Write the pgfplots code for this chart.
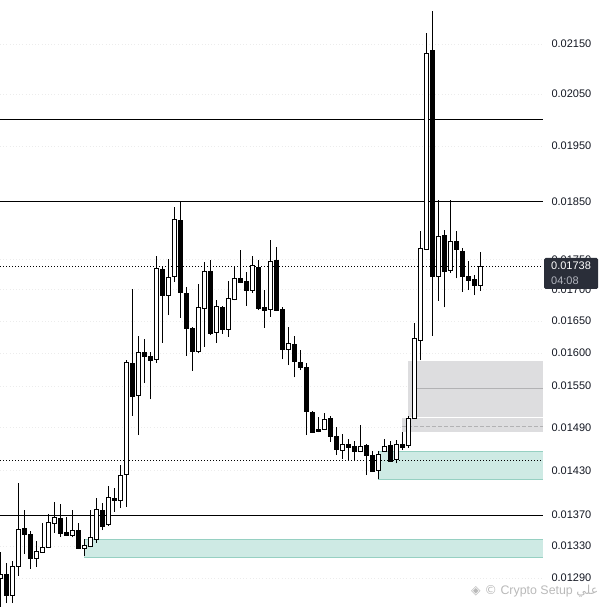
\documentclass[border=0pt]{standalone}
\usepackage{fontspec}
\setmainfont{Liberation Sans}
\newfontfamily\dejavu{DejaVu Sans}
\newfontfamily\arabicfont[Script=Arabic]{DejaVu Sans}
\TeXXeTstate=1
\usepackage{pgfplots}
\usepackage{pgfplotstable}
\pgfplotsset{compat=1.18}
\definecolor{zonegray}{RGB}{221,221,223}
\definecolor{zoneline}{RGB}{178,178,180}
\definecolor{teal1}{RGB}{206,234,228}
\definecolor{teal2}{RGB}{150,208,194}
\definecolor{boxdark}{RGB}{42,46,57}
\definecolor{boxtext}{RGB}{178,181,190}
\definecolor{ticktext}{RGB}{19,23,34}

\pgfplotstableread{
x o h l c b
0 0.012899 0.013223 0.012485 0.012948 1
1 0.012948 0.013085 0.012594 0.012691 0
2 0.012691 0.013110 0.012594 0.013047 1
3 0.013039 0.014126 0.012927 0.013514 1
4 0.013530 0.013766 0.013198 0.013444 0
5 0.013453 0.013492 0.013014 0.013139 0
6 0.013139 0.013363 0.013035 0.013236 1
7 0.013220 0.013599 0.013211 0.013283 1
8 0.013287 0.013713 0.013274 0.013608 1
9 0.013591 0.013872 0.013470 0.013670 1
10 0.013661 0.013845 0.013418 0.013457 0
11 0.013479 0.013678 0.013427 0.013431 0
12 0.013431 0.013766 0.013411 0.013501 1
13 0.013505 0.013599 0.013262 0.013265 0
14 0.013265 0.013389 0.013173 0.013308 1
15 0.013296 0.013766 0.013283 0.013415 1
16 0.013385 0.013921 0.013342 0.013775 1
17 0.013766 0.013858 0.013505 0.013547 0
18 0.013575 0.014085 0.013556 0.013934 1
19 0.013921 0.014058 0.013743 0.013889 0
20 0.013898 0.014371 0.013792 0.014230 1
21 0.014244 0.015890 0.013809 0.015855 1
22 0.015844 0.017008 0.015066 0.015342 0
23 0.015362 0.016259 0.014790 0.016007 1
24 0.016012 0.016208 0.015548 0.015946 0
25 0.015946 0.016016 0.015304 0.015879 0
26 0.015894 0.017553 0.015849 0.017348 1
27 0.017336 0.017369 0.016155 0.016899 0
28 0.016899 0.017497 0.016589 0.017199 1
29 0.017209 0.018390 0.017127 0.018185 1
30 0.018168 0.018490 0.016547 0.016947 0
31 0.016942 0.017035 0.015955 0.016373 0
32 0.016384 0.016400 0.015728 0.016016 0
33 0.016016 0.017089 0.015996 0.016712 1
34 0.016696 0.017457 0.016093 0.017303 1
35 0.017303 0.017486 0.016275 0.016295 0
36 0.016310 0.016829 0.016155 0.016728 1
37 0.016712 0.016733 0.016295 0.016358 0
38 0.016358 0.017138 0.016248 0.016857 1
39 0.016841 0.017374 0.016825 0.017182 1
40 0.017187 0.017654 0.017105 0.017122 0
41 0.017138 0.017286 0.016738 0.016980 0
42 0.016986 0.017553 0.016947 0.017397 1
43 0.017369 0.017486 0.016669 0.016690 0
44 0.016706 0.016991 0.016389 0.016658 0
45 0.016680 0.017823 0.016562 0.017461 1
46 0.017486 0.017704 0.016653 0.016669 0
47 0.016685 0.016717 0.015900 0.016050 0
48 0.016050 0.016400 0.015814 0.016146 1
49 0.016135 0.016259 0.015629 0.015864 0
50 0.015855 0.016043 0.015739 0.015773 0
51 0.015784 0.015849 0.014790 0.015123 0
52 0.015114 0.015133 0.014818 0.014828 0
53 0.014875 0.015051 0.014828 0.014847 0
54 0.014871 0.015100 0.014861 0.015014 1
55 0.015028 0.015061 0.014695 0.014766 0
56 0.014776 0.014899 0.014509 0.014589 0
57 0.014579 0.014804 0.014450 0.014659 1
58 0.014659 0.014729 0.014440 0.014617 0
59 0.014625 0.014705 0.014426 0.014555 0
60 0.014565 0.014932 0.014551 0.014625 1
61 0.014645 0.014659 0.014234 0.014509 0
62 0.014509 0.014565 0.014275 0.014289 0
63 0.014303 0.014565 0.014180 0.014519 1
64 0.014565 0.014729 0.014558 0.014625 1
65 0.014639 0.014709 0.014419 0.014426 0
66 0.014454 0.014719 0.014394 0.014659 1
67 0.014659 0.014828 0.014579 0.014611 0
68 0.014639 0.015061 0.014611 0.015028 1
69 0.015028 0.016463 0.015018 0.016223 1
70 0.016189 0.017978 0.015890 0.017682 1
71 0.017671 0.021720 0.017654 0.021309 1
72 0.021377 0.022190 0.016264 0.017209 0
73 0.017209 0.018519 0.016818 0.017892 1
74 0.017909 0.017995 0.016712 0.017291 0
75 0.017308 0.018519 0.017275 0.017806 1
76 0.017806 0.017978 0.017182 0.017665 0
77 0.017637 0.017682 0.016963 0.017209 0
78 0.017220 0.017469 0.016991 0.017155 0
79 0.017166 0.017237 0.016910 0.017073 0
80 0.017061 0.017625 0.016980 0.017380 1
}\candles

\begin{document}
\begin{tikzpicture}
\begin{axis}[
  at={(0,0)}, anchor=south west,
  scale only axis, width=543pt, height=607pt,
  ymode=log,
  xmin=-0.05, xmax=90.45,
  ymin=0.012546, ymax=0.022424,
  enlargelimits=false,
  axis line style={draw=none},
  major tick length=0pt,
  xtick=\empty,
  ytick={0.02245,0.0215,0.0205,0.0195,0.0185,0.0175,0.0170,0.0165,0.0160,0.0155,0.0149,0.0143,0.0137,0.0133,0.0129,0.0125},
  yticklabels={0.02250,0.02150,0.02050,0.01950,0.01850,0.01750,0.01700,0.01650,0.01600,0.01550,0.01490,0.01430,0.01370,0.01330,0.01290,0.01250},
  yticklabel pos=right,
  yticklabel style={anchor=west, xshift=5pt, font=\fontsize{11}{13}\selectfont, text=ticktext},
  ymajorgrids,
  grid style={draw=gray!15, dash pattern=on 0.6pt off 2.6pt},
  clip=true,
]
% zones
\addplot[fill=zonegray, draw=none] coordinates {(67.95,0.015875) (90.45,0.015875) (90.45,0.015047) (67.95,0.015047)} -- cycle;
\addplot[fill=zonegray, draw=none] coordinates {(66.95,0.015031) (90.45,0.015031) (90.45,0.014827) (66.95,0.014827)} -- cycle;
\addplot[zoneline, line width=0.8pt] coordinates {(69.4,0.01547) (90.45,0.01547)};
\addplot[zoneline, line width=0.8pt, dash pattern=on 4pt off 2pt] coordinates {(66.95,0.01492) (90.45,0.01492)};
\addplot[fill=teal1, draw=none] coordinates {(62.95,0.014566) (90.45,0.014566) (90.45,0.014177) (62.95,0.014177)} -- cycle;
\addplot[teal2, line width=0.8pt] coordinates {(62.95,0.014566) (90.45,0.014566)};
\addplot[teal2, line width=0.8pt] coordinates {(62.95,0.014177) (90.45,0.014177)};
\addplot[fill=teal1, draw=none] coordinates {(13.95,0.013390) (90.45,0.013390) (90.45,0.013159) (13.95,0.013159)} -- cycle;
\addplot[teal2, line width=0.8pt] coordinates {(13.95,0.013390) (90.45,0.013390)};
\addplot[teal2, line width=0.8pt] coordinates {(13.95,0.013159) (90.45,0.013159)};
% horizontal levels
\addplot[black, line width=1pt] coordinates {(-0.05,0.0200) (90.45,0.0200)};
\addplot[black, line width=1pt] coordinates {(-0.05,0.0185) (90.45,0.0185)};
\addplot[black, line width=1pt] coordinates {(-0.05,0.0137) (90.45,0.0137)};
\addplot[black, line width=0.9pt, dash pattern=on 1pt off 2pt] coordinates {(-0.05,0.01738) (90,0.01738)};
\addplot[black, line width=0.9pt, dash pattern=on 1pt off 2pt] coordinates {(-0.05,0.01443) (90,0.01443)};
% candles
\pgfplotsinvokeforeach{0,...,80}{%
  \pgfplotstablegetelem{#1}{o}\of\candles\let\co\pgfplotsretval
  \pgfplotstablegetelem{#1}{h}\of\candles\let\ch\pgfplotsretval
  \pgfplotstablegetelem{#1}{l}\of\candles\let\cl\pgfplotsretval
  \pgfplotstablegetelem{#1}{c}\of\candles\let\cc\pgfplotsretval
  \pgfplotstablegetelem{#1}{b}\of\candles\let\cb\pgfplotsretval
  \pgfmathsetmacro\xa{#1-0.3}\pgfmathsetmacro\xb{#1+0.3}%
  \ifnum\cb=1 \def\bodyfill{white}\else\def\bodyfill{black}\fi
  \edef\doit{%
    \noexpand\addplot[black, line width=1pt] coordinates {(#1,\cl) (#1,\ch)};
    \noexpand\addplot[draw=black, line width=0.8pt, fill=\bodyfill] coordinates {(\xa,\co) (\xb,\co) (\xb,\cc) (\xa,\cc)} -- cycle;
  }\doit
}
\end{axis}
% current price label
\fill[boxdark, rounded corners=1.5pt] (544pt,318pt) rectangle (598pt,349pt);
\node[anchor=west, inner sep=0pt, text=white, font=\fontsize{11}{13}\selectfont] at (551pt,341pt) {0.01738};
\node[anchor=west, inner sep=0pt, text=boxtext, font=\fontsize{11}{13}\selectfont] at (551pt,326pt) {04:08};
% watermark
\node[anchor=west, inner sep=0pt, text=gray!55, font=\fontsize{12.4}{14}\selectfont] at (471pt,16pt) {{\dejavu ◈ ©} Crypto Setup {\arabicfont\beginR علي\endR}};
\pgfresetboundingbox
\useasboundingbox (0,0) rectangle (607pt,607pt);
\end{tikzpicture}
\end{document}
